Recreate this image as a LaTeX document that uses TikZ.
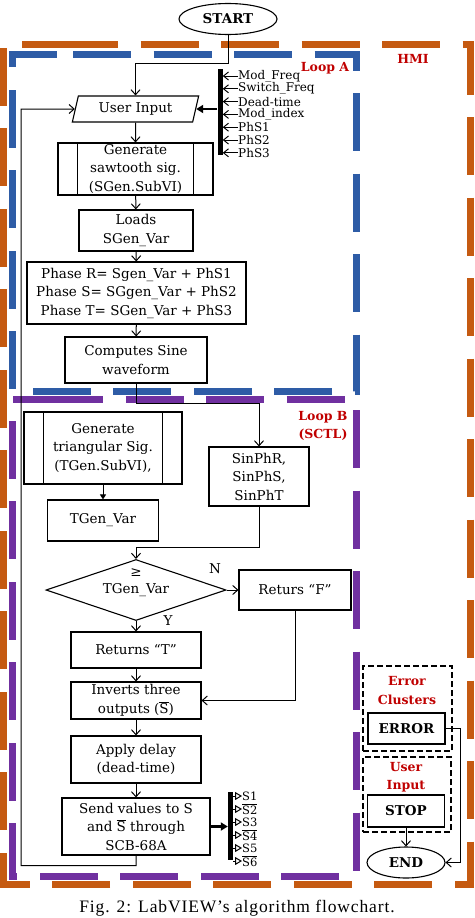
\documentclass[tikz,border=0pt]{standalone}
\usepackage{fontspec}
\setmainfont{DejaVu Serif}
\newfontfamily\capfont[LetterSpace=5]{Liberation Serif}
\usetikzlibrary{shapes.geometric,arrows.meta}

\definecolor{hmiorange}{HTML}{C55A11}
\definecolor{loopblue}{HTML}{2E5CA6}
\definecolor{looppurple}{HTML}{7030A0}
\definecolor{labelred}{HTML}{C00000}

\newcommand{\boxfont}{\fontsize{13.5}{18.5}\selectfont}
\newcommand{\Sbar}[1]{$\overline{\mbox{#1}}$}

\tikzset{
  box/.style={draw, line width=1.1pt, align=center, inner sep=0pt, font=\boxfont},
  arr/.style={line width=1pt, -{Straight Barb[length=5pt,width=9pt]}},
  barb/.style={line width=1pt, -{Straight Barb[length=5pt,width=8pt]}},
  tri/.style={line width=1pt, -{Triangle[open,length=7pt,width=8pt]}},
  busarr/.style={line width=2.6pt, -{Triangle[length=7pt,width=8pt]}},
  loopframe/.style={line width=7pt, dash pattern=on 58pt off 22.5pt},
  dashbox/.style={draw, line width=1.2pt, dash pattern=on 6pt off 3pt, inner sep=0pt},
  redlbl/.style={text=labelred, font=\fontsize{12.5}{18.5}\selectfont\bfseries, align=center},
  inlbl/.style={inner sep=0pt, font=\fontsize{12}{13}\selectfont},
  outlbl/.style={inner sep=0pt, font=\fontsize{11.5}{12}\selectfont}
}

\begin{document}
\begin{tikzpicture}[x=1pt, y=-1pt]

        \useasboundingbox (0,0) rectangle (474,918);

        % Draw the dashed frames (HMI, Loop A, Loop B)
        \draw[loopframe, hmiorange] (60,44) -- (470,44) -- (470,884) -- (3,884) -- (3,44) -- cycle;
        \draw[loopframe, loopblue] (73,54) -- (356,54) -- (356,391) -- (12,391) -- (12,54) -- cycle;
        \draw[loopframe, looppurple] (45,399) -- (356,399) -- (356,876) -- (12,876) -- (12,399) -- cycle;

        % Label the frames
        \node[redlbl] (hmi) at (413,59) {HMI};
        \node[redlbl] (loopa) at (325,68) {Loop A};
        \node[redlbl] (loopb) at (323,426) {Loop B\\(SCTL)};

        % Draw the start and the user input
        \node[box, ellipse, font=\boxfont\bfseries, minimum width=98, minimum height=31] (start) at (228,19) {START};
        \node[box, trapezium, trapezium left angle=73, trapezium right angle=107, trapezium stretches=true,
              minimum width=127, minimum height=26] (uin) at (135.5,109) {User Input};
        \draw[arr] (start.south) -- ++(0,28) -| (uin.north);

        % Draw the input bus
        \node[fill, inner sep=0pt, minimum width=5, minimum height=86] (inbus) at (220,112) {};
        \foreach \lbl [count=\i from 0] in {Mod\_Freq, Switch\_Freq, Dead-time, Mod\_index, PhS1, PhS2, PhS3} {
            \node[inlbl, anchor=west] (in\i) at (238,{76+12.8*\i}) {\lbl};
            \draw[barb] (in\i.west) -- (in\i.west -| inbus.east);
        }
        \draw[busarr] (inbus.west |- uin.east) -- (uin.east);

        % Draw Loop A
        \node[box, minimum width=155, minimum height=52] (gsaw) at (135.5,169) {Generate\\sawtooth sig.\\(SGen.SubVI)};
        \node[box, minimum width=114, minimum height=41] (lsaw) at (136,230.5) {Loads\\SGen\_Var};
        \node[box, minimum width=219, minimum height=62] (phase) at (136.5,293)
            {Phase R= Sgen\_Var + PhS1\\Phase S= SGgen\_Var + PhS2\\Phase T= SGen\_Var + PhS3};
        \node[box, minimum width=142, minimum height=46] (csine) at (136,360) {Computes Sine\\waveform};
        \draw[arr] (uin) -- (gsaw);
        \draw[arr] (gsaw) -- (lsaw);
        \draw[arr] (lsaw) -- (phase);
        \draw[arr] (phase) -- (csine);

        % Draw Loop B
        \node[box, minimum width=158, minimum height=72] (gtri) at (103,448) {Generate\\triangular Sig.\\(TGen.SubVI),};
        \node[box, minimum width=111, minimum height=41] (tvar) at (103,520.5) {TGen\_Var};
        \node[box, minimum width=100, minimum height=59] (sinph) at (259,476.5) {SinPhR,\\SinPhS,\\SinPhT};
        \foreach \n in {gsaw, gtri} {
            \draw[line width=1.1pt] ([xshift=20pt]\n.north west) -- ([xshift=20pt]\n.south west);
            \draw[line width=1.1pt] ([xshift=-20pt]\n.north east) -- ([xshift=-20pt]\n.south east);
        }
        \draw[line width=1pt, -{Triangle[length=5pt,width=6pt]}] (gtri) -- (tvar);
        \draw[arr] (csine.south) -- ++(0,20) -| (sinph.north);

        % Draw the comparison
        \node[box, diamond, aspect=3, minimum width=180, minimum height=61] (cmp) at (136,590) {TGen\_Var};
        \node[font=\boxfont, inner sep=0pt] (geq) at (136,573) {≥};
        \node[box, minimum width=112, minimum height=40] (retf) at (295,590) {Returs “F”};
        \node[box, minimum width=130, minimum height=36] (rett) at (136,650) {Returns “T”};
        \node[font=\boxfont, inner sep=0pt] (nlbl) at (215,569) {N};
        \node[font=\boxfont, inner sep=0pt] (ylbl) at (168,621) {Y};
        \draw[arr] (sinph.south) -- ++(0,41) -| (cmp.north);
        \draw[arr] (cmp.east) -- (retf.west);
        \draw[arr] (cmp.south) -- (rett.north);

        % Draw the output chain
        \node[box, minimum width=130, minimum height=37] (inv) at (136,700.5) {Inverts three\\outputs (\Sbar{S})};
        \node[box, minimum width=130, minimum height=47] (delay) at (136,759.5) {Apply delay\\(dead-time)};
        \node[box, minimum width=148, minimum height=57] (send) at (136,826.5) {Send values to S\\and \Sbar{S} through\\SCB-68A};
        \draw[arr] (rett) -- (inv);
        \draw[arr] (retf.south) |- (inv.east);
        \draw[arr] (inv) -- (delay);
        \draw[arr] (delay) -- (send);

        % Draw the output bus
        \node[fill, inner sep=0pt, minimum width=5, minimum height=68] (outbus) at (230.5,826) {};
        \draw[busarr] (send.east) -- (send.east -| outbus.west);
        \foreach \lbl [count=\i from 0] in {S1, \Sbar{S2}, S3, \Sbar{S4}, S5, \Sbar{S6}} {
            \node[outlbl, anchor=west] (out\i) at (242,{796+13*\i}) {\lbl};
            \draw[tri] (out\i.west -| outbus.east) -- (out\i.west);
        }

        % Loop back to the user input
        \coordinate (loopc) at (21,109);
        \draw[arr] (send.south) -- ++(0,10) -| (loopc) -- (uin.west);

        % Draw error clusters and stop
        \node[dashbox, minimum width=89, minimum height=85] (errbox) at (407.5,708.5) {};
        \node[redlbl] (errlbl) at (407,690.5) {Error\\Clusters};
        \node[box, font=\boxfont\bfseries, minimum width=77, minimum height=31] (err) at (406.5,728.5) {ERROR};
        \node[dashbox, minimum width=88, minimum height=75] (usrbox) at (407,794.5) {};
        \node[redlbl] (usrlbl) at (406,777) {User\\Input};
        \node[box, font=\boxfont\bfseries, minimum width=77, minimum height=32] (stop) at (406,811) {STOP};
        \node[box, ellipse, font=\boxfont\bfseries, minimum width=78, minimum height=31] (fin) at (406,862.5) {END};
        \draw[arr] (stop.south) -- (fin.north);
        \draw[arr] (err.east) -- ++(15,0) |- (fin.east);

        % Caption
        \node[font=\capfont\fontsize{17.5}{20}\selectfont] (cap) at (237,908) {Fig. 2: LabVIEW’s algorithm flowchart.};

\end{tikzpicture}
\end{document}
